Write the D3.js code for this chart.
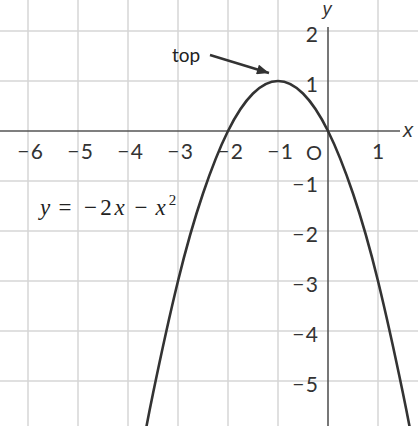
<!DOCTYPE html>
<html>
<head>
<meta charset="utf-8">
<script src="https://cdn.jsdelivr.net/npm/d3@7"></script>
<style>
  html, body { margin: 0; padding: 0; background: #fff; }
  svg { display: block; }
</style>
</head>
<body>
<svg id="chart"></svg>
<script>
// points
const curveX = [-3.7, -3.5, -3, -2.5, -2, -1.5, -1, -0.5, 0, 0.5, 1, 1.5, 1.7];
const curveY = [-6.29, -5.25, -3, -1.25, 0, 0.75, 1, 0.75, 0, -1.25, -3, -5.25, -6.29];

const xTicks = [-6, -5, -4, -3, -2, -1, 1];
const yTicks = [2, 1, -1, -2, -3, -4, -5];
const gridX = [-6, -5, -4, -3, -2, -1, 0, 1];
const gridY = [2, 1, 0, -1, -2, -3, -4, -5];

const width = 418;
const height = 426;

const svg = d3.select("#chart")
  .attr("width", width)
  .attr("height", height);

const x = d3.scaleLinear().domain([-6.56, 1.80]).range([0, width]);
const y = d3.scaleLinear().domain([2.62, -5.90]).range([0, height]);

const minus = v => (v < 0 ? "\u2212\u200A" + Math.abs(v) : String(v));

// grid
svg.append("g")
  .attr("stroke", "#d6d6d6")
  .attr("stroke-width", 1.5)
  .selectAll("line")
  .data(gridX.filter(d => d !== 0))
  .join("line")
  .attr("x1", d => x(d)).attr("x2", d => x(d))
  .attr("y1", 0).attr("y2", height);

svg.append("g")
  .attr("stroke", "#d6d6d6")
  .attr("stroke-width", 1.5)
  .selectAll("line")
  .data(gridY.filter(d => d !== 0))
  .join("line")
  .attr("x1", 0).attr("x2", width)
  .attr("y1", d => y(d)).attr("y2", d => y(d));

// axes
svg.append("line")
  .attr("x1", 0).attr("x2", 400)
  .attr("y1", y(0)).attr("y2", y(0))
  .attr("stroke", "#555").attr("stroke-width", 1.6);

svg.append("line")
  .attr("x1", x(0)).attr("x2", x(0))
  .attr("y1", 27).attr("y2", height)
  .attr("stroke", "#555").attr("stroke-width", 1.6);

const labelFont = "Lato, 'Open Sans', sans-serif";

// x tick labels
svg.append("g")
  .selectAll("text")
  .data(xTicks)
  .join("text")
  .attr("x", d => x(d) + (d < 0 ? 2 : 0))
  .attr("y", 159)
  .attr("text-anchor", "middle")
  .attr("font-family", labelFont)
  .attr("font-size", 21)
  .attr("fill", "#333")
  .text(minus);

// y tick labels
svg.append("g")
  .selectAll("text")
  .data(yTicks)
  .join("text")
  .attr("x", x(0) - 10)
  .attr("y", d => y(d) + 11)
  .attr("text-anchor", "end")
  .attr("font-family", labelFont)
  .attr("font-size", 21)
  .attr("fill", "#333")
  .text(minus);

// origin
svg.append("text")
  .attr("x", 314).attr("y", 160)
  .attr("text-anchor", "middle")
  .attr("font-family", labelFont)
  .attr("font-size", 20)
  .attr("fill", "#333")
  .text("O");

// axis names
svg.append("text")
  .attr("x", 408).attr("y", 137)
  .attr("text-anchor", "middle")
  .attr("font-family", "'Liberation Sans', sans-serif")
  .attr("font-style", "italic")
  .attr("font-size", 20)
  .attr("fill", "#333")
  .text("x");

svg.append("text")
  .attr("x", 327).attr("y", 15)
  .attr("text-anchor", "middle")
  .attr("font-family", "'Liberation Sans', sans-serif")
  .attr("font-style", "italic")
  .attr("font-size", 18)
  .attr("fill", "#333")
  .text("y");

// curve
svg.append("clipPath").attr("id", "plot")
  .append("rect").attr("width", width).attr("height", height);

const line = d3.line()
  .x((d, i) => x(curveX[i]))
  .y(d => y(d))
  .curve(d3.curveNatural);

svg.append("path")
  .datum(curveY)
  .attr("clip-path", "url(#plot)")
  .attr("fill", "none")
  .attr("stroke", "#333")
  .attr("stroke-width", 2.6)
  .attr("d", line);

// "top" callout
svg.append("defs").append("marker")
  .attr("id", "arrow")
  .attr("viewBox", "0 0 12 10")
  .attr("refX", 12).attr("refY", 5)
  .attr("markerWidth", 5.5).attr("markerHeight", 4.2)
  .attr("markerUnits", "strokeWidth")
  .attr("orient", "auto")
  .append("path")
  .attr("d", "M0,0L12,5L0,10z")
  .attr("fill", "#333");

svg.append("line")
  .attr("x1", 210).attr("y1", 55)
  .attr("x2", 269).attr("y2", 73)
  .attr("stroke", "#333")
  .attr("stroke-width", 2.4)
  .attr("marker-end", "url(#arrow)");

svg.append("text")
  .attr("x", 172).attr("y", 62)
  .attr("font-family", labelFont)
  .attr("font-size", 19)
  .attr("fill", "#222")
  .text("top");

// equation, each glyph centred where it sits in the typeset original
const eqParts = [
  { t: "y", x: 45, it: true },
  { t: "=", x: 65 },
  { t: "\u2212", x: 90.5 },
  { t: "2", x: 106 },
  { t: "x", x: 119.5, it: true },
  { t: "\u2212", x: 141 },
  { t: "x", x: 160.5, it: true },
  { t: "2", x: 172.5, sup: true }
];
svg.append("g")
  .attr("font-family", "'Liberation Serif', 'DejaVu Serif', serif")
  .attr("fill", "#222")
  .attr("text-anchor", "middle")
  .selectAll("text")
  .data(eqParts)
  .join("text")
  .attr("x", d => d.x)
  .attr("y", d => (d.sup ? 205 : 215))
  .attr("font-size", d => (d.sup ? 15 : 23))
  .attr("font-style", d => (d.it ? "italic" : null))
  .text(d => d.t);
</script>
</body>
</html>
